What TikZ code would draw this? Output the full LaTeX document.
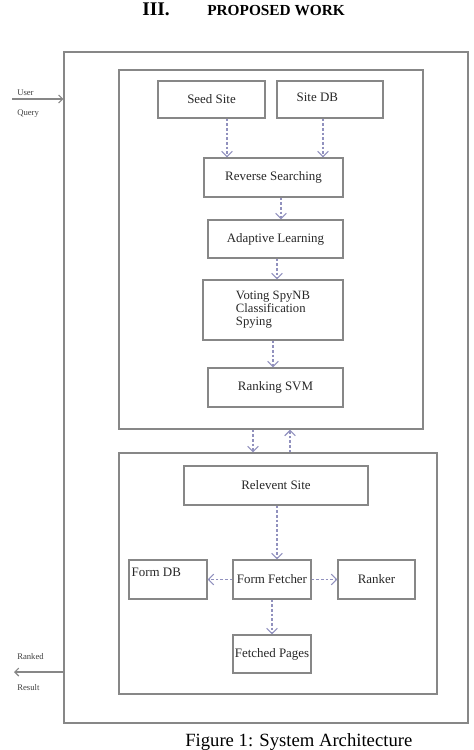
\documentclass[tikz,border=0pt]{standalone}
\usepackage{fontspec}
\setmainfont{Liberation Serif}
\usetikzlibrary{arrows.meta}
\definecolor{framegray}{RGB}{135,135,135}
\definecolor{flowblue}{RGB}{145,145,190}
\tikzset{
  box/.style={draw=framegray,line width=0.9pt,inner sep=1pt,font=\fontsize{9.7}{10.5}\selectfont,text=black!85},
  sz/.style 2 args={minimum width=#1*0.75pt,minimum height=#2*0.75pt},
  frame/.style={draw=framegray,line width=1.1pt,inner sep=0pt},
  flow/.style={draw=flowblue,line width=0.8pt,dash pattern=on 2pt off 1.5pt,-{Straight Barb[length=4pt,width=8pt]}},
  io/.style={draw=framegray,line width=0.8pt,-{Straight Barb[length=3pt,width=6pt]}},
  tiny/.style={font=\fontsize{6.5}{7}\selectfont,text=black!75,anchor=base west,inner sep=0pt}
}
\begin{document}
\begin{tikzpicture}[x=0.75pt,y=-0.75pt]
        \useasboundingbox (0,0) rectangle (474,750);
        %% Heading
        \node[anchor=base west,inner sep=0pt,font=\fontsize{14.5}{17}\selectfont\bfseries] (secno) at (142,15) {III.};
        \node[anchor=base west,inner sep=0pt,font=\fontsize{11.5}{13}\selectfont\bfseries] (sectitle) at (207,15) {PROPOSED WORK};
        %% Frames
        \node[frame,sz={404}{671}] (outer) at (266,387.5) {};
        \node[frame,sz={304}{359}] (upper) at (271,249.5) {};
        \node[frame,sz={318}{241}] (lower) at (278,573.5) {};
        %% Upper part
        \node[box,sz={107}{37}] (seed) at (211.5,99.5) {Seed Site};
        \node[box,sz={106}{37},label={[anchor=west,inner sep=0pt,font=\fontsize{9.7}{10.5}\selectfont,text=black!85,xshift=15pt,yshift=1.5pt]west:Site DB}] (sitedb) at (330,99.5) {};
        \node[box,sz={139}{39}] (rev) at (273.5,177.5) {Reverse Searching};
        \node[box,sz={135}{38}] (adapt) at (275.5,239) {Adaptive Learning};
        \node[box,sz={140}{60},align=left,font=\fontsize{9.5}{9.8}\selectfont] (vote) at (273,310) {Voting SpyNB\\Classification\\Spying};
        \node[box,sz={135}{39}] (rank) at (275.5,387.5) {Ranking SVM};
        %% Lower part
        \node[box,sz={184}{39}] (rel) at (276,485.5) {Relevent Site};
        \node[box,sz={78}{39},label={[anchor=north west,inner sep=0pt,font=\fontsize{9.7}{10.5}\selectfont,text=black!85,xshift=2.25pt,yshift=-6pt]north west:Form DB}] (formdb) at (168,579.5) {};
        \node[box,sz={78}{39}] (fetcher) at (272,579.5) {Form Fetcher};
        \node[box,sz={77}{39}] (ranker) at (376.5,579.5) {Ranker};
        \node[box,sz={78}{38}] (fetched) at (272,654) {Fetched Pages};
        %% Arrows
        \draw[flow] (seed.south -| 227,0) -- (rev.north -| 227,0);
        \draw[flow] (sitedb.south -| 323,0) -- (rev.north -| 323,0);
        \draw[flow] (rev.south -| 281,0) -- (adapt.north -| 281,0);
        \draw[flow] (adapt.south -| 277,0) -- (vote.north -| 277,0);
        \draw[flow] (vote.south -| 273,0) -- (rank.north -| 273,0);
        \draw[flow] (upper.south -| 253,0) -- (lower.north -| 253,0);
        \draw[flow] (lower.north -| 290,0) -- (upper.south -| 290,0);
        \draw[flow] (rel.south -| 277,0) -- (fetcher.north -| 277,0);
        \draw[flow] (fetcher.west) -- (formdb.east);
        \draw[flow] (fetcher.east) -- (ranker.west);
        \draw[flow] (fetcher.south) -- (fetched.north);
        %% Input and output
        \coordinate (userin) at (12,99);
        \draw[io] (userin) -- (userin -| outer.west);
        \node[tiny] (user) at (17,95) {User};
        \node[tiny] (query) at (17,115) {Query};
        \coordinate (resout) at (14,672);
        \draw[io] (resout -| outer.west) -- (resout);
        \node[tiny] (ranked) at (17,659) {Ranked};
        \node[tiny] (result) at (17,690) {Result};
        %% Caption
        \node[anchor=base west,inner sep=0pt,font=\fontsize{14}{16}\selectfont] (caption) at (185,746) {Figure 1: System Architecture};
\end{tikzpicture}
\end{document}
